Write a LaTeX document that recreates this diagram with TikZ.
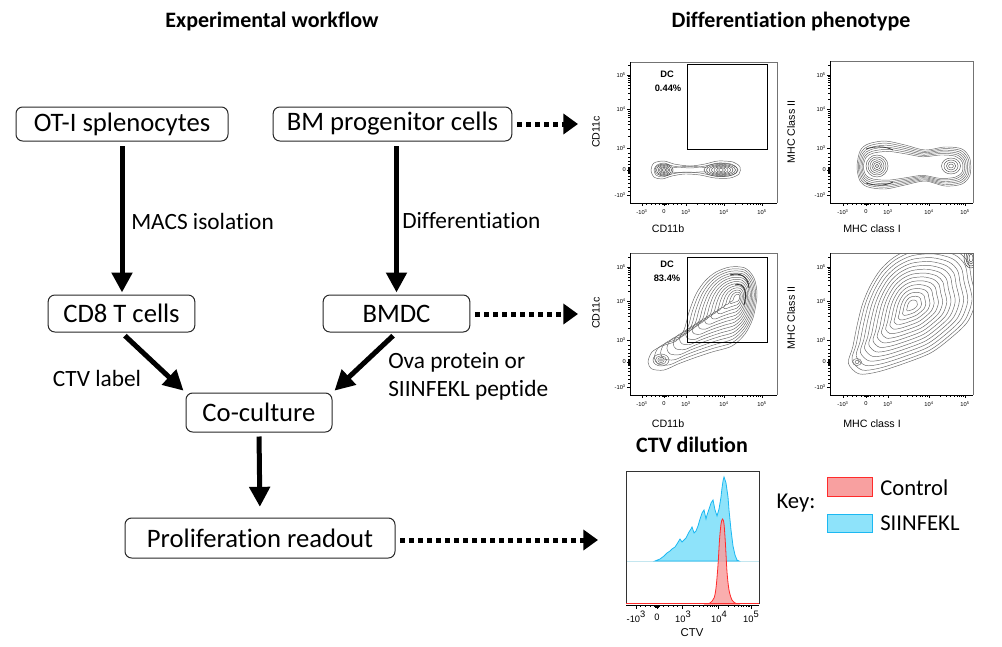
\documentclass[tikz,border=0pt]{standalone}
\usepackage{fontspec}
\setmainfont{Carlito}[Ligatures=NoCommon]
\newfontfamily\arialf{Liberation Sans}
\usetikzlibrary{arrows.meta}
\definecolor{cblue}{HTML}{8EE3FA}
\definecolor{cbluel}{HTML}{1CB8F2}
\definecolor{cred}{HTML}{F8A0A0}
\definecolor{credl}{HTML}{FF2B2B}
\definecolor{cmid}{HTML}{C4E6EF}

\tikzset{
  box/.style={draw=black!85, line width=0.75pt, rounded corners=5pt, inner sep=0pt,
    font=\fontsize{20}{24}\selectfont},
  lab/.style={inner sep=0pt, font=\fontsize{17.5}{21}\selectfont},
  ttl/.style={inner sep=0pt, font=\fontsize{16.5}{20}\selectfont\bfseries},
  keyt/.style={inner sep=0pt, font=\fontsize{17}{20}\selectfont},
  arr/.style={line width=3.75pt, -{Triangle[length=15pt,width=15pt]}},
  darr/.style={line width=3.75pt, dash pattern=on 3.75pt off 3pt, -{Triangle[length=11pt,width=15pt]}},
  frm/.style={draw=black!55, line width=0.5pt},
  axk/.style={draw=black, line width=0.6pt},
  tk/.style={draw=black, line width=0.35pt},
  tl/.style={inner sep=0.3pt, font=\arialf\fontsize{4.3}{4.3}\selectfont},
  axt/.style={inner sep=0pt, font=\arialf\fontsize{8}{9}\selectfont},
  gtxt/.style={inner sep=0pt, font=\arialf\fontsize{7}{8}\selectfont\bfseries},
  ct/.style={draw=black!60, line width=0.35pt},
  htl/.style={inner sep=0pt, font=\arialf\fontsize{7}{8}\selectfont},
}

\newcommand\flowaxes[7]{%
  \draw[frm] (0,-#2) -- (#1,-#2) -- (#1,0);
  \draw[axk] (0,-#2) -- (0,0) -- (#1,0);
  \foreach \yy in {-128,-94,-55,-33,-8} {\draw[tk] (0,\yy) -- (-3,\yy);}
  \foreach \f in {0.301,0.477,0.602,0.699,0.778,0.845,0.903,0.954} {
    \draw[tk] (0,{-55-39*\f}) -- (-1.6,{-55-39*\f});
    \draw[tk] (0,{-94-34*\f}) -- (-1.6,{-94-34*\f});
  }
  \draw[tk] (0,{-128-34*0.301}) -- (-1.6,{-128-34*0.301});
  \foreach \yy in {-12,-16,-20,-24,-27,-30,-36,-39,-42,-46,-50} {\draw[tk] (0,\yy) -- (-1.6,\yy);}
  \fill (-1.8,-35.5) rectangle (0,-30.5);
  \node[tl, anchor=east] at (-3.5,-128) {10\textsuperscript{5}};
  \node[tl, anchor=east] at (-3.5,-94) {10\textsuperscript{4}};
  \node[tl, anchor=east] at (-3.5,-55) {10\textsuperscript{3}};
  \node[tl, anchor=east] at (-3.5,-33) {0};
  \node[tl, anchor=east] at (-3.5,-8) {-10\textsuperscript{3}};
  \foreach \xx in {#3,#4,#5,#6,#7} {\draw[tk] (\xx,0) -- (\xx,3);}
  \foreach \f in {0.301,0.477,0.602,0.699,0.778,0.845,0.903,0.954} {
    \draw[tk] ({#5+(#6-#5)*\f},0) -- ++(0,1.6);
    \draw[tk] ({#6+(#7-#6)*\f},0) -- ++(0,1.6);
  }
  \foreach \i in {1,...,9} {\draw[tk] ({#3+(#5-#3)*\i/10},0) -- ++(0,1.6);}
  \fill ({#4-2.5},0) rectangle ({#4+2.5},1.8);
  \node[tl] at (#3,9) {-10\textsuperscript{3}};
  \node[tl] at (#4,9) {0};
  \node[tl] at (#5,9) {10\textsuperscript{3}};
  \node[tl] at (#6,9) {10\textsuperscript{4}};
  \node[tl] at (#7,9) {10\textsuperscript{5}};
}

\begin{document}
\begin{tikzpicture}[x=0.75pt,y=-0.75pt]
\useasboundingbox (0,0) rectangle (1002,646);

% ---------------- titles
\node[ttl] (t1) at (272,22) {Experimental workflow};
\node[ttl] (t2) at (791,22) {Differentiation phenotype};
\node[ttl] (t3) at (692,445) {CTV dilution};

% ---------------- workflow boxes
\node[box, minimum width=159pt, minimum height=25.5pt] (ot) at (122,124) {OT-I splenocytes};
\node[box, minimum width=179pt, minimum height=25.5pt] (bm) at (392.5,124) {BM progenitor cells};
\node[box, minimum width=110pt, minimum height=27.75pt] (cd8) at (121.5,313.5) {CD8 T cells};
\node[box, minimum width=110pt, minimum height=27.75pt] (bmdc) at (396.5,313.5) {BMDC};
\node[box, minimum width=109.5pt, minimum height=29.25pt] (cc) at (259,412.5) {Co-culture};
\node[box, minimum width=202.5pt, minimum height=30pt] (pr) at (260,538) {Proliferation readout};

% ---------------- arrows
\draw[arr, shorten <=3.5pt, shorten >=1.5pt] (ot.south) -- (ot.south |- cd8.north);
\draw[arr, shorten <=3.5pt, shorten >=1.5pt] (bm.south -| bmdc.north) -- (bmdc.north);
\draw[arr, shorten <=3.5pt, shorten >=2pt] (cd8.south) -- (cc.north west);
\draw[arr, shorten <=3.5pt, shorten >=2pt] (bmdc.south) -- (cc.north east);
\draw[arr, shorten <=3pt, shorten >=8pt] (cc.south) -- (pr.north);

\node[lab, anchor=west] (l1) at (131,221) {MACS isolation};
\node[lab, anchor=west] (l2) at (402,221) {Differentiation};
\node[lab] (l3) at (97,378) {CTV label};
\node[lab, anchor=west, align=left] (l4) at (388,376) {Ova protein or\\SIINFEKL peptide};

% ---------------- dotted arrows
\coordinate (e1) at (578,124);
\coordinate (e2) at (578,314);
\coordinate (e3) at (598,540);
\draw[darr, shorten <=3.5pt] (bm.east) -- (e1);
\draw[darr, shorten <=3.5pt] (bmdc.east |- e2) -- (e2);
\draw[darr, shorten <=3.5pt] (pr.east |- e3) -- (e3);

% ================= flow plot 1 (CD11b vs CD11c, progenitors)
\begin{scope}[shift={(630,203)}]
  \flowaxes{147}{141}{12}{34}{56}{94}{132}
\end{scope}
\begin{scope}
  \clip (630,62) rectangle (777,203);
  \draw[ct] plot[smooth cycle] coordinates {(651,170) (654,163) (664,161) (674,164) (690,166) (705,164) (718,161) (733,162) (740,167) (739,174) (730,178) (715,178) (700,175) (685,174) (672,176) (662,179) (654,177)};
  \draw[ct] plot[smooth cycle] coordinates {(654,170) (657,165) (664,163) (673,166) (690,168) (705,166) (718,163) (731,164) (737,168) (736,173) (729,176) (715,176) (700,173) (685,172) (672,174) (662,177) (656,175)};
  \foreach \rx/\ry in {9/6, 7.5/5.2, 6/4.4, 4.5/3.5, 3/2.6, 1.8/1.6} {\draw[ct, draw=black!70] (664,170) ellipse [x radius=\rx, y radius=\ry];}
  \foreach \rx/\ry in {17/6.5, 14.5/5.6, 12/4.8, 9.5/4, 7/3.2, 4.5/2.4, 2.2/1.5} {\draw[ct, draw=black!70] (721,170) ellipse [x radius=\rx, y radius=\ry];}
  \draw[ct] (672,168) .. controls (690,165) and (700,167) .. (708,168);
  \draw[ct] (672,172) .. controls (690,174) and (700,171) .. (708,172);
\end{scope}
\draw[black, line width=0.7pt] (687,64) rectangle (767,149);
\node[gtxt] (g1a) at (667,74) {DC};
\node[gtxt] (g1b) at (668,88) {0.44\%};
\node[axt] (x1) at (668,229) {CD11b};
\node[axt, rotate=90] (y1) at (596,132) {CD11c};

% ================= flow plot 2 (MHC, progenitors)
\begin{scope}[shift={(830,203)}]
  \flowaxes{143}{142}{13}{36}{58}{99}{135}
\end{scope}
\begin{scope}
  \clip (830,61) rectangle (973,203);
  \foreach \sx/\sy in {1/1, 0.975/0.92, 0.95/0.84, 0.925/0.76, 0.9/0.68, 0.875/0.6} {
  \begin{scope}[shift={(908,167)}, xscale=\sx, yscale=\sy, shift={(-908,-167)}]
  \draw[ct] plot[smooth cycle] coordinates {(857,167) (860,151) (868,144) (885,141) (905,145) (925,150) (945,147) (962,149) (970,159) (970,175) (962,184) (945,186) (925,181) (905,185) (885,189) (868,187) (860,181)};
  \end{scope}
  }
  \foreach \rx/\ry in {11/11, 9/9, 7/7.2, 5.2/5.4, 3.5/3.6, 1.8/1.8} {\draw[ct, draw=black!65] (877,166) ellipse [x radius=\rx, y radius=\ry];}
  \foreach \rx/\ry in {9.5/8, 7/6, 4.6/4, 2.4/2} {\draw[ct, draw=black!65] (951,166) ellipse [x radius=\rx, y radius=\ry];}
  \draw[ct, draw=black!75, line width=0.6pt] (866,149) .. controls (875,146) and (885,146) .. (893,150);
  \draw[ct, draw=black!75, line width=0.6pt] (866,183) .. controls (875,186) and (885,186) .. (893,182);
\end{scope}
\node[axt] (x2) at (872,229) {MHC class I};
\node[axt, rotate=90] (y2) at (791,132) {MHC Class II};

% ================= flow plot 3 (CD11b vs CD11c, BMDC)
\begin{scope}[shift={(630,395)}]
  \flowaxes{147}{142}{12}{34}{56}{94}{132}
\end{scope}
\begin{scope}
  \clip (630,253) rectangle (777,395);
  \foreach \s in {1,0.93,0.86,0.79,0.72,0.65,0.58,0.51,0.44,0.37,0.30,0.23,0.16,0.09} {
  \draw[ct, scale around={\s:(738,297)}] plot[smooth cycle] coordinates {(648,362) (652,352) (662,346) (676,341) (684,330) (689,312) (696,294) (705,281) (716,272) (730,267) (745,268) (754,278) (757,295) (753,318) (745,334) (732,346) (712,352) (694,358) (678,364) (664,370) (652,369)};
  }
  \foreach \rx/\ry in {8/6, 5.5/4.2, 3.2/2.6, 1.5/1.3} {\draw[ct] (661,360) ellipse [x radius=\rx, y radius=\ry];}
  \draw[ct, draw=black!80, line width=0.7pt] (735,285) .. controls (744,282) and (748,292) .. (744,305);
  \draw[ct, draw=black!80, line width=0.7pt] (730,275) .. controls (740,272) and (748,276) .. (749,288);
\end{scope}
\draw[black, line width=0.7pt] (687,257) rectangle (767,342);
\node[gtxt] (g3a) at (667,264) {DC};
\node[gtxt] (g3b) at (667,278) {83.4\%};
\node[axt] (x3) at (668,424) {CD11b};
\node[axt, rotate=90] (y3) at (596,313) {CD11c};

% ================= flow plot 4 (MHC, BMDC)
\begin{scope}[shift={(830,395)}]
  \flowaxes{143}{142}{13}{36}{58}{99}{135}
\end{scope}
\begin{scope}
  \clip (830,253) rectangle (973,395);
  \foreach \s in {1.06,1,0.93,0.86,0.79,0.72,0.65,0.58,0.51,0.44,0.37,0.30,0.23,0.16,0.09} {
  \draw[ct, scale around={\s:(912,305)}] plot[smooth cycle] coordinates {(852,360) (856,345) (860,325) (865,305) (872,288) (882,272) (895,260) (912,252) (935,250) (955,255) (965,265) (968,280) (972,300) (965,320) (950,335) (930,350) (905,360) (880,368) (862,370)};
  }
  \foreach \rx/\ry in {4.5/3.5, 2/1.6} {\draw[ct] (857,362) ellipse [x radius=\rx, y radius=\ry];}
  \foreach \rx/\ry in {7/10, 5/8, 3.5/6, 2/4} {\draw[ct, draw=black!75] (971,258) ellipse [x radius=\rx, y radius=\ry];}
\end{scope}
\node[axt] (x4) at (872,424) {MHC class I};
\node[axt, rotate=90] (y4) at (791,318) {MHC Class II};

% ================= histogram
\draw[cmid, line width=0.6pt] (626,561) -- (759,561);
\filldraw[fill=cblue, draw=cbluel, line width=0.6pt] (655,561) -- (660,559) -- (664,556) -- (667,553) -- (670,551) -- (672,549) -- (675,547) -- (677,544) -- (680,539) -- (682,542) -- (684,540) -- (686,538) -- (688,534) -- (689,532) -- (691,529) -- (692,527) -- (694,533) -- (696,531) -- (698,526) -- (700,519) -- (702,513) -- (704,510) -- (706,519) -- (707,515) -- (709,509) -- (711,503) -- (713,500) -- (715,510) -- (717,516) -- (719,509) -- (721,497) -- (722,488) -- (723,481) -- (724,477) -- (726,483) -- (727,490) -- (728,497) -- (729,510) -- (731,530) -- (733,546) -- (735,555) -- (737,560) -- (739,561) -- cycle;
\filldraw[fill=cred, fill opacity=0.85, draw=credl, line width=0.6pt] plot[smooth] coordinates {(704,604) (710,603) (714,598) (716,588) (718,565) (719.5,540) (721,524) (722.5,519) (724,524) (725.5,545) (727,572) (729,590) (732,600) (736,603.5) (740,604)} -- cycle;
\draw[black!80, line width=0.5pt] (626,604) -- (626,471) -- (759,471) -- (759,604);
\draw[black, line width=0.6pt] (626,605) -- (759,605);
\draw[credl, line width=0.6pt] (626,603.5) -- (759,603.5);
\foreach \xx in {636,657,682,718,751} {\draw[tk] (\xx,605) -- (\xx,608.5);}
\foreach \f in {0.301,0.477,0.602,0.699,0.778,0.845,0.903,0.954} {
  \draw[tk] ({682+36*\f},605) -- ++(0,2);
  \draw[tk] ({718+33*\f},605) -- ++(0,2);
}
\foreach \i in {1,...,9} {\draw[tk] ({636+46*\i/10},605) -- ++(0,2);}
\fill (655,605) rectangle (659,607.5);
\node[htl] (h1) at (636,617) {-10\raisebox{0.5em}{3}};
\node[htl] (h2) at (657,617) {0};
\node[htl] (h3) at (683,617) {10\raisebox{0.5em}{3}};
\node[htl] (h4) at (719,617) {10\raisebox{0.5em}{4}};
\node[htl] (h5) at (751,617) {10\raisebox{0.5em}{5}};
\node[htl, font=\arialf\fontsize{8.5}{9}\selectfont] (hx) at (692,633) {CTV};

% ================= key
\node[keyt] (key) at (796,503) {Key:};
\node[draw=credl, fill=cred, line width=0.6pt, minimum width=33.75pt, minimum height=14.25pt, inner sep=0pt] (kr) at (849.5,486.5) {};
\node[draw=cbluel, fill=cblue, line width=0.6pt, minimum width=33.75pt, minimum height=13.5pt, inner sep=0pt] (kb) at (849.5,523) {};
\node[keyt, anchor=west] (kc) at (880,488) {Control};
\node[keyt, anchor=west] (ks) at (880,523) {SIINFEKL};
\end{tikzpicture}
\end{document}
